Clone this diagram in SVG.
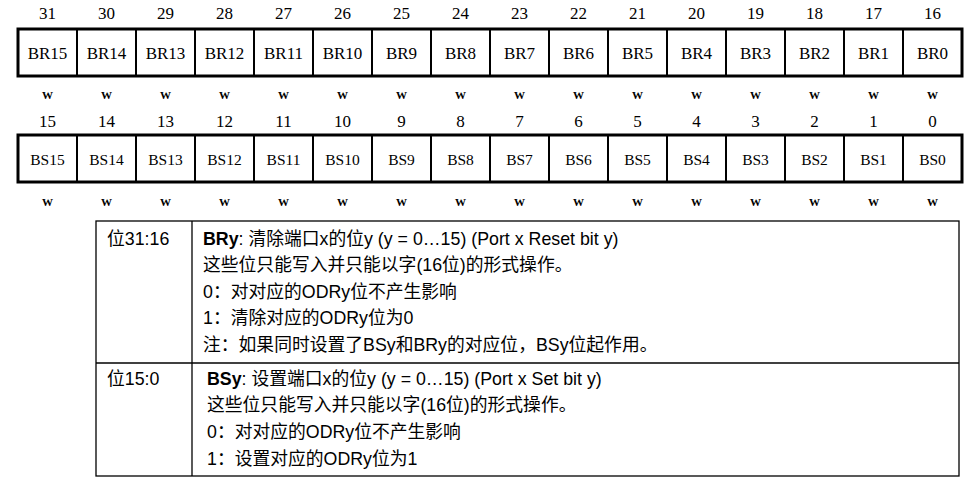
<svg xmlns="http://www.w3.org/2000/svg" width="974" height="482" viewBox="0 0 974 482">
<style>
.n{font-family:"Liberation Serif","DejaVu Serif",serif;font-size:17px;text-anchor:middle;fill:#000}
.c{font-family:"Liberation Serif","DejaVu Serif",serif;font-size:17px;text-anchor:middle;fill:#000}
.c2{font-family:"Liberation Serif","DejaVu Serif",serif;font-size:15.5px;text-anchor:middle;fill:#000}
.w{font-family:"Liberation Serif","DejaVu Serif",serif;font-size:11px;font-weight:bold;text-anchor:middle;fill:#000}
.t{font-family:"Liberation Sans","Noto Sans CJK SC",sans-serif;font-size:17.8px;fill:#000}
.b{font-weight:bold}
.box{fill:#fff;stroke:#000;stroke-width:3}
.cell{stroke:#000;stroke-width:2}
.tb{fill:none;stroke:#000;stroke-width:1.3}
</style>
<rect width="974" height="482" fill="#fff"/>
<g id="row-high">
<rect class="box" x="18" y="29" width="944" height="47"/>
<g class="cell">
<line x1="77" y1="29" x2="77" y2="76"/><line x1="136" y1="29" x2="136" y2="76"/><line x1="195" y1="29" x2="195" y2="76"/><line x1="254" y1="29" x2="254" y2="76"/><line x1="313" y1="29" x2="313" y2="76"/><line x1="372" y1="29" x2="372" y2="76"/><line x1="431" y1="29" x2="431" y2="76"/><line x1="490" y1="29" x2="490" y2="76"/><line x1="549" y1="29" x2="549" y2="76"/><line x1="608" y1="29" x2="608" y2="76"/><line x1="667" y1="29" x2="667" y2="76"/><line x1="726" y1="29" x2="726" y2="76"/><line x1="785" y1="29" x2="785" y2="76"/><line x1="844" y1="29" x2="844" y2="76"/><line x1="903" y1="29" x2="903" y2="76"/>
</g>
<g class="n">
<text x="47.5" y="19">31</text><text x="106.5" y="19">30</text><text x="165.5" y="19">29</text><text x="224.5" y="19">28</text><text x="283.5" y="19">27</text><text x="342.5" y="19">26</text><text x="401.5" y="19">25</text><text x="460.5" y="19">24</text><text x="519.5" y="19">23</text><text x="578.5" y="19">22</text><text x="637.5" y="19">21</text><text x="696.5" y="19">20</text><text x="755.5" y="19">19</text><text x="814.5" y="19">18</text><text x="873.5" y="19">17</text><text x="932.5" y="19">16</text>
</g>
<g class="c">
<text x="47.5" y="59">BR15</text><text x="106.5" y="59">BR14</text><text x="165.5" y="59">BR13</text><text x="224.5" y="59">BR12</text><text x="283.5" y="59">BR11</text><text x="342.5" y="59">BR10</text><text x="401.5" y="59">BR9</text><text x="460.5" y="59">BR8</text><text x="519.5" y="59">BR7</text><text x="578.5" y="59">BR6</text><text x="637.5" y="59">BR5</text><text x="696.5" y="59">BR4</text><text x="755.5" y="59">BR3</text><text x="814.5" y="59">BR2</text><text x="873.5" y="59">BR1</text><text x="932.5" y="59">BR0</text>
</g>
<g class="w">
<text x="47.5" y="99">W</text><text x="106.5" y="99">W</text><text x="165.5" y="99">W</text><text x="224.5" y="99">W</text><text x="283.5" y="99">W</text><text x="342.5" y="99">W</text><text x="401.5" y="99">W</text><text x="460.5" y="99">W</text><text x="519.5" y="99">W</text><text x="578.5" y="99">W</text><text x="637.5" y="99">W</text><text x="696.5" y="99">W</text><text x="755.5" y="99">W</text><text x="814.5" y="99">W</text><text x="873.5" y="99">W</text><text x="932.5" y="99">W</text>
</g>
</g>
<g id="row-low">
<rect class="box" x="18" y="135" width="944" height="47"/>
<g class="cell">
<line x1="77" y1="135" x2="77" y2="182"/><line x1="136" y1="135" x2="136" y2="182"/><line x1="195" y1="135" x2="195" y2="182"/><line x1="254" y1="135" x2="254" y2="182"/><line x1="313" y1="135" x2="313" y2="182"/><line x1="372" y1="135" x2="372" y2="182"/><line x1="431" y1="135" x2="431" y2="182"/><line x1="490" y1="135" x2="490" y2="182"/><line x1="549" y1="135" x2="549" y2="182"/><line x1="608" y1="135" x2="608" y2="182"/><line x1="667" y1="135" x2="667" y2="182"/><line x1="726" y1="135" x2="726" y2="182"/><line x1="785" y1="135" x2="785" y2="182"/><line x1="844" y1="135" x2="844" y2="182"/><line x1="903" y1="135" x2="903" y2="182"/>
</g>
<g class="n">
<text x="47.5" y="127">15</text><text x="106.5" y="127">14</text><text x="165.5" y="127">13</text><text x="224.5" y="127">12</text><text x="283.5" y="127">11</text><text x="342.5" y="127">10</text><text x="401.5" y="127">9</text><text x="460.5" y="127">8</text><text x="519.5" y="127">7</text><text x="578.5" y="127">6</text><text x="637.5" y="127">5</text><text x="696.5" y="127">4</text><text x="755.5" y="127">3</text><text x="814.5" y="127">2</text><text x="873.5" y="127">1</text><text x="932.5" y="127">0</text>
</g>
<g class="c2">
<text x="47.5" y="165">BS15</text><text x="106.5" y="165">BS14</text><text x="165.5" y="165">BS13</text><text x="224.5" y="165">BS12</text><text x="283.5" y="165">BS11</text><text x="342.5" y="165">BS10</text><text x="401.5" y="165">BS9</text><text x="460.5" y="165">BS8</text><text x="519.5" y="165">BS7</text><text x="578.5" y="165">BS6</text><text x="637.5" y="165">BS5</text><text x="696.5" y="165">BS4</text><text x="755.5" y="165">BS3</text><text x="814.5" y="165">BS2</text><text x="873.5" y="165">BS1</text><text x="932.5" y="165">BS0</text>
</g>
<g class="w">
<text x="47.5" y="206">W</text><text x="106.5" y="206">W</text><text x="165.5" y="206">W</text><text x="224.5" y="206">W</text><text x="283.5" y="206">W</text><text x="342.5" y="206">W</text><text x="401.5" y="206">W</text><text x="460.5" y="206">W</text><text x="519.5" y="206">W</text><text x="578.5" y="206">W</text><text x="637.5" y="206">W</text><text x="696.5" y="206">W</text><text x="755.5" y="206">W</text><text x="814.5" y="206">W</text><text x="873.5" y="206">W</text><text x="932.5" y="206">W</text>
</g>
</g>
<g id="desc-table">
<rect class="tb" x="96" y="221" width="863" height="255"/>
<line class="tb" x1="96" y1="363" x2="959" y2="363"/>
<line class="tb" x1="192" y1="221" x2="192" y2="476"/>
<g class="t">
<text x="107" y="245">位31:16</text>
<text x="203" y="245"><tspan class="b">BRy</tspan>: 清除端口x的位y (y = 0…15) (Port x Reset bit y)</text>
<text x="203" y="271">这些位只能写入并只能以字(16位)的形式操作。</text>
<text x="203" y="298">0：对对应的ODRy位不产生影响</text>
<text x="203" y="324">1：清除对应的ODRy位为0</text>
<text x="203" y="351">注：如果同时设置了BSy和BRy的对应位，BSy位起作用。</text>
<text x="107" y="385">位15:0</text>
<text x="207" y="385"><tspan class="b">BSy</tspan>: 设置端口x的位y (y = 0…15) (Port x Set bit y)</text>
<text x="207" y="411">这些位只能写入并只能以字(16位)的形式操作。</text>
<text x="207" y="438">0：对对应的ODRy位不产生影响</text>
<text x="207" y="465">1：设置对应的ODRy位为1</text>
</g>
</g>
</svg>
